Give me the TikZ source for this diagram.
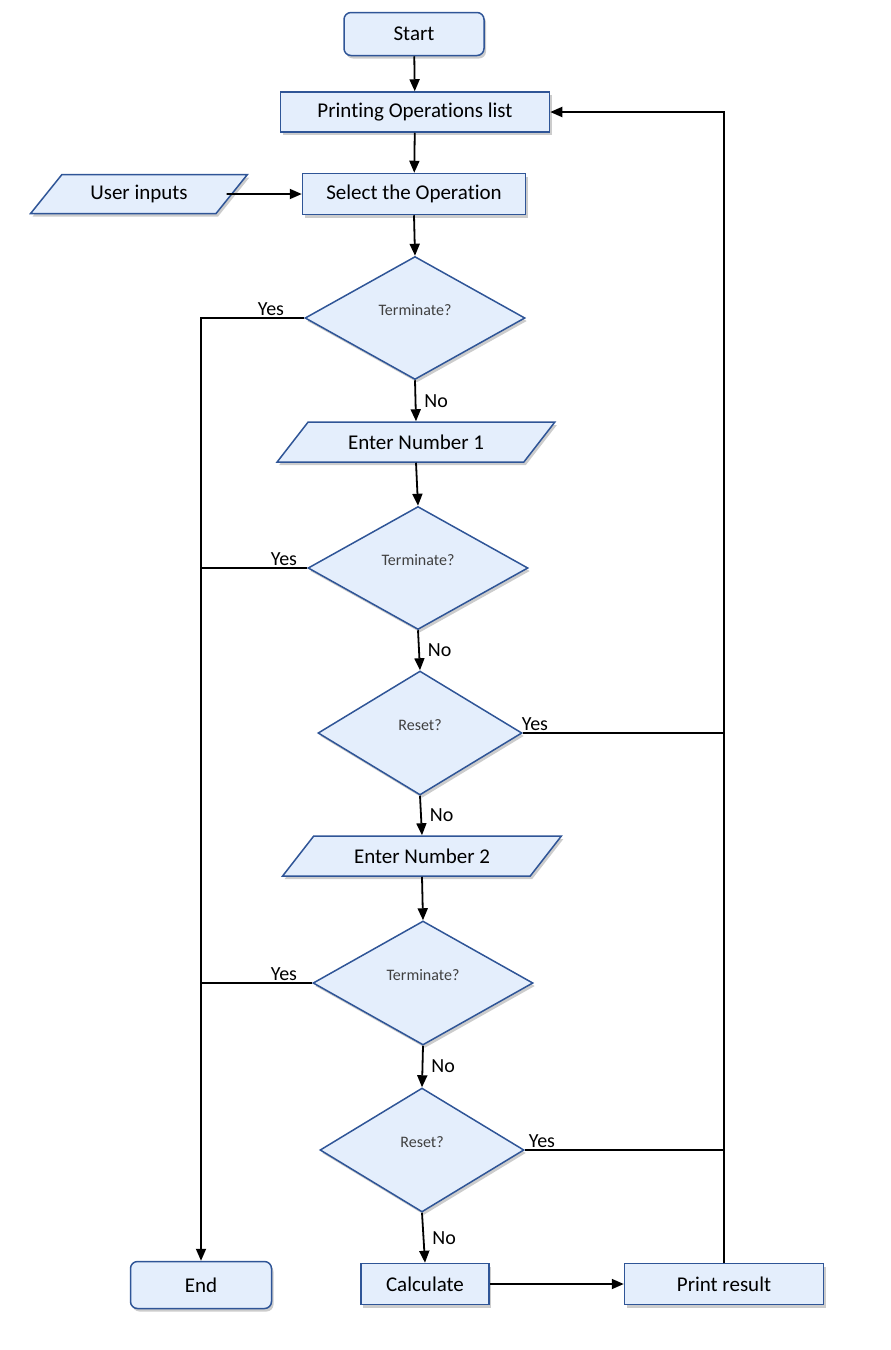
\documentclass[tikz,border=0pt]{standalone}
\usepackage{fontspec}
\setmainfont{Carlito}[Ligatures=NoCommon]
\usetikzlibrary{shapes.geometric, arrows.meta, shadows}

\definecolor{boxfill}{HTML}{E4EEFC}
\definecolor{boxline}{HTML}{2F5597}
\definecolor{bevdark}{HTML}{8E98A8}
\definecolor{bevlite}{HTML}{FFFFFF}
\pgfdeclareverticalshading{bevel}{100bp}{color(0bp)=(bevdark); color(14bp)=(boxfill); color(86bp)=(boxfill); color(100bp)=(bevlite)}

\tikzset{
    base/.style={draw=boxline, line width=1.5pt, shading=bevel,
        drop shadow={shadow xshift=2pt, shadow yshift=-3pt, opacity=0.4},
        font=\fontsize{21}{25}\selectfont, inner sep=0pt},
    terminal/.style={base, rectangle, rounded corners=7pt},
    process/.style={base, rectangle},
    io/.style={base, trapezium, trapezium stretches=true},
    decision/.style={base, diamond, font=\fontsize{16}{19}\selectfont,
        text=black!75, text height=10pt, text depth=16pt},
    flow/.style={line width=1.8pt, -{Triangle[length=12pt, width=10pt]}},
    link/.style={line width=1.8pt},
    lbl/.style={font=\fontsize{20}{24}\selectfont, inner sep=2pt},
    nolbl/.style={lbl, right, inner xsep=8pt}
}

\begin{document}
\begin{tikzpicture}[x=1pt, y=-1pt]
    \useasboundingbox (0,0) rectangle (891,1350);

    % boxes
    \node[terminal, minimum width=140pt, minimum height=43pt] (start) at (414,34) {Start};
    \node[process, minimum width=269pt, minimum height=40pt] (plist) at (415,112) {Printing Operations list};
    \node[process, minimum width=223pt, minimum height=41pt] (select) at (414,194) {Select the Operation};
    \node[io, trapezium left angle=42, trapezium right angle=138,
        minimum width=217pt, minimum height=39pt] (uin) at (139,194) {User inputs};
    \node[decision, minimum width=220pt, minimum height=123pt] (term1) at (415,318) {Terminate?};
    \node[io, trapezium left angle=37, trapezium right angle=143,
        minimum width=278pt, minimum height=40pt] (num1) at (416,442) {Enter Number 1};
    \node[decision, minimum width=220pt, minimum height=123pt] (term2) at (418,568) {Terminate?};
    \node[decision, minimum width=204pt, minimum height=124pt] (reset1) at (420,733) {Reset?};
    \node[io, trapezium left angle=37, trapezium right angle=143,
        minimum width=279pt, minimum height=40pt] (num2) at (422,856) {Enter Number 2};
    \node[decision, minimum width=220pt, minimum height=124pt] (term3) at (423,983) {Terminate?};
    \node[decision, minimum width=204pt, minimum height=124pt] (reset2) at (422,1150) {Reset?};
    \node[terminal, minimum width=141pt, minimum height=47pt] (endn) at (201,1285) {End};
    \node[process, minimum width=128pt, minimum height=41pt] (calc) at (425,1284) {Calculate};
    \node[process, minimum width=199pt, minimum height=41pt] (print) at (724,1284) {Print result};

    % main line
    \draw[flow] (start) -- (plist);
    \draw[flow] (plist) -- (select);
    \draw[flow] ([xshift=-6pt]uin.east) -- (select.west);
    \draw[flow] (select.south) -- (term1.north);
    \draw[flow] (term1.south) -- node[nolbl] (no1) {No} (num1.north);
    \draw[flow] (num1.south) -- (term2.north);
    \draw[flow] (term2.south) -- node[nolbl] (no2) {No} (reset1.north);
    \draw[flow] (reset1.south) -- node[nolbl] (no3) {No} (num2.north);
    \draw[flow] (num2.south) -- (term3.north);
    \draw[flow] (term3.south) -- node[nolbl] (no4) {No} (reset2.north);
    \draw[flow] (reset2.south) -- node[nolbl] (no5) {No} (calc.north);
    \draw[flow] (calc) -- (print);

    % terminate branches
    \draw[flow] (term1.west) -| (endn.north);
    \draw[link] (term2.west) -- (term2.west -| endn.north);
    \draw[link] (term3.west) -- (term3.west -| endn.north);
    \node[lbl, above left] (yes1) at ([xshift=-18pt]term1.west) {Yes};
    \node[lbl, above left] (yes2) at ([xshift=-8pt]term2.west) {Yes};
    \node[lbl, above left] (yes3) at ([xshift=-13pt]term3.west) {Yes};

    % reset branches
    \draw[flow] (print.north) |- (plist.east);
    \draw[link] (reset1.east) -- (reset1.east -| print.north);
    \draw[link] (reset2.east) -- (reset2.east -| print.north);
    \node[lbl, above right] (yes4) at ([xshift=-3pt]reset1.east) {Yes};
    \node[lbl, above right] (yes5) at ([xshift=2pt]reset2.east) {Yes};
\end{tikzpicture}
\end{document}
